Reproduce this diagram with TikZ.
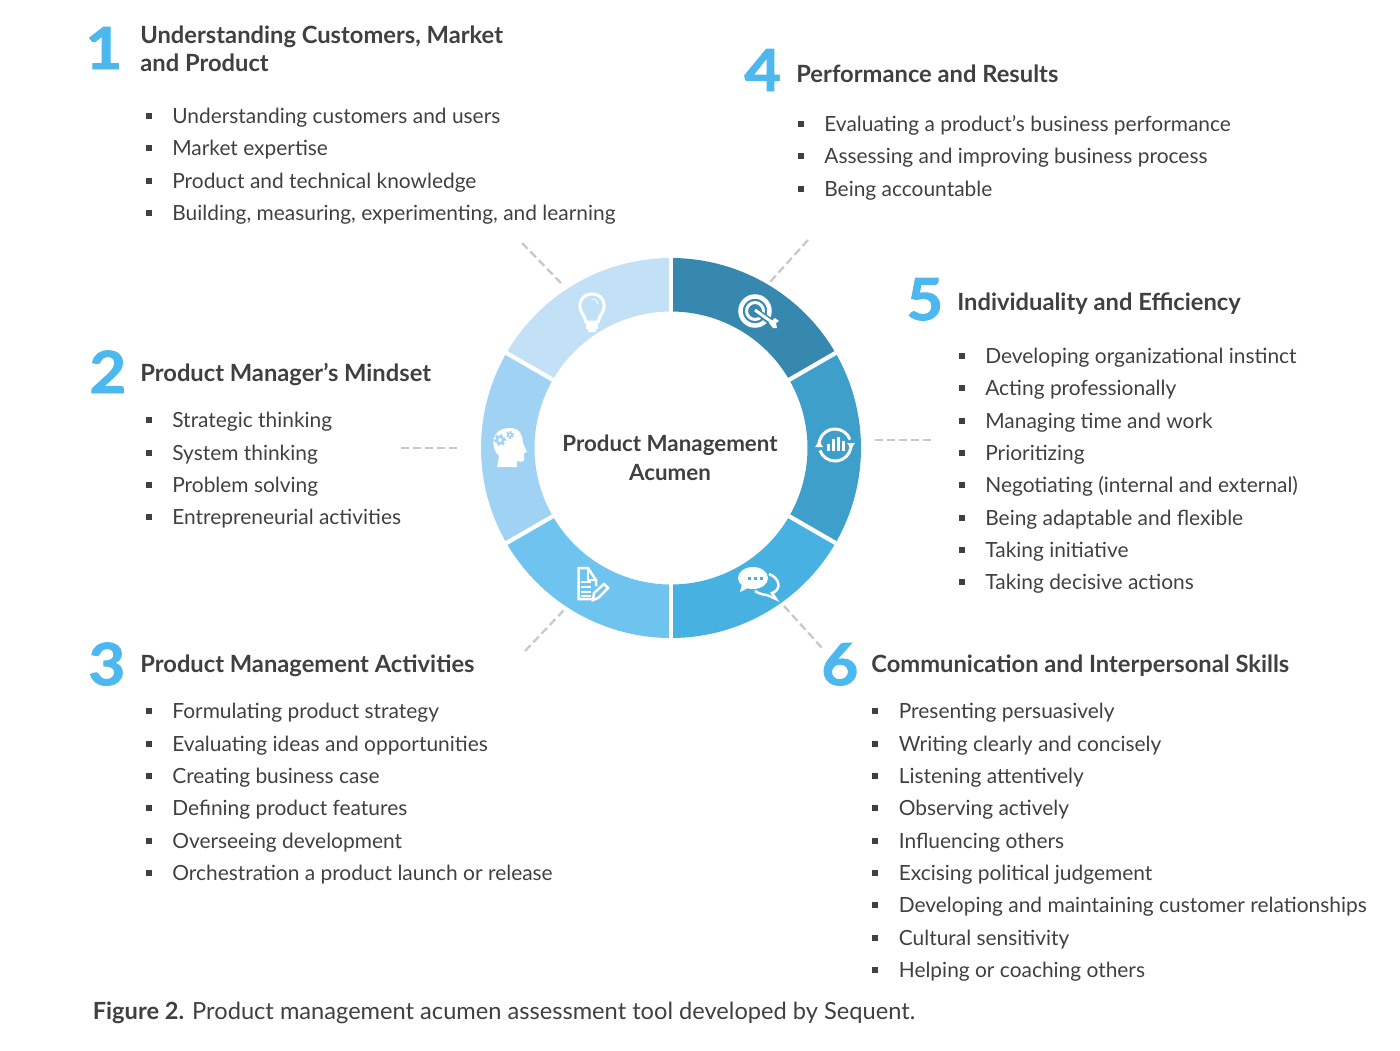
\documentclass[tikz,border=0pt]{standalone}
\usepackage{fontspec}
\setmainfont{Lato}
\newfontfamily\szamfont[BoldFeatures={FakeBold=1.6,FakeStretch=1.1}]{Lato}
\usepackage{tikz}
\definecolor{szov}{HTML}{404040}
\definecolor{szam}{HTML}{4DB8EE}
\definecolor{vonal}{HTML}{C8C8C8}
\definecolor{ringa}{HTML}{C2E1F6}
\definecolor{ringb}{HTML}{A0D2F3}
\definecolor{ringc}{HTML}{6FC3EF}
\definecolor{ringd}{HTML}{47B2E2}
\definecolor{ringe}{HTML}{3F9FCB}
\definecolor{ringf}{HTML}{3688AF}
\tikzset{
  szam/.style={anchor=base west,inner sep=0pt,text=szam,font=\fontsize{33}{33}\selectfont\szamfont\bfseries},
  cim/.style={anchor=base west,inner sep=0pt,text=szov,font=\fontsize{13.5}{16}\selectfont\bfseries},
  tetel/.style={anchor=base west,inner sep=0pt,text=szov,font=\fontsize{11.9}{15}\selectfont},
  pont/.style={rectangle,fill=szov,inner sep=0pt,minimum size=1.1mm},
  vez/.style={vonal,line width=0.45mm,dash pattern=on 1.6mm off 0.8mm},
  ikon/.style={white,line width=0.6mm},
  fog/.style={circle,draw=ringb,inner sep=0pt,line width=0.45mm},
  fogk/.style={circle,draw=ringb,inner sep=0pt},
}
\begin{document}
\begin{tikzpicture}[x=0.2mm,y=0.2mm]
  \useasboundingbox (0,0) rectangle (1400,-1050);
  % ring
  \begin{scope}[shift={(671,-448)}]
    \foreach \a/\col in {90/ringa,150/ringb,210/ringc,270/ringd,330/ringe,30/ringf} {
      \fill[\col] (\a:190) arc (\a:\a+60:190) -- (\a+60:136.5) arc (\a+60:\a:136.5) -- cycle;
    }
    \foreach \a in {30,90,...,330} {
      \draw[white,line width=0.85mm] (\a:130) -- (\a:196);
    }
  \end{scope}
  \node[text=szov,align=center,inner sep=0pt,font=\fontsize{12.7}{16.5}\selectfont\bfseries] (kozep) at (670,-458) {Product Management\\Acumen};
  % numbers and headings
  \node[szam] (n1) at (85,-69) {1};
  \node[szam] (n2) at (89,-393) {2};
  \node[szam] (n3) at (88,-685) {3};
  \node[szam] (n4) at (744,-91) {4};
  \node[szam] (n5) at (906,-320) {5};
  \node[szam] (n6) at (821,-685) {6};
  \node[cim] (c1a) at (140,-43) {Understanding Customers, Market};
  \node[cim] (c1b) at (140,-71) {and Product};
  \node[cim] (c2) at (140,-381) {Product Manager’s Mindset};
  \node[cim] (c3) at (140,-672) {Product Management Activities};
  \node[cim] (c4) at (796,-82) {Performance and Results};
  \node[cim] (c5) at (957,-310.5) {Individuality and Efficiency};
  \node[cim] (c6) at (871,-672) {Communication and Interpersonal Skills};
  % lists
  \foreach \y/\lab [count=\i] in {116/{Understanding customers and users},148/{Market expertise},181/{Product and technical knowledge},213/{Building, measuring, experimenting, and learning}} {
    \node[pont] (pa\i) at (149,-\y) {};
    \node[tetel] (ta\i) at (172,-\y-7.5) {\lab};
  }
  \foreach \y/\lab [count=\i] in {420/{Strategic thinking},453/{System thinking},485/{Problem solving},517/{Entrepreneurial activities}} {
    \node[pont] (pb\i) at (149,-\y) {};
    \node[tetel] (tb\i) at (172,-\y-7.5) {\lab};
  }
  \foreach \y/\lab [count=\i] in {711/{Formulating product strategy},744/{Evaluating ideas and opportunities},776/{Creating business case},808/{Defining product features},841/{Overseeing development},873/{Orchestration a product launch or release}} {
    \node[pont] (pc\i) at (149,-\y) {};
    \node[tetel] (tc\i) at (172,-\y-7.5) {\lab};
  }
  \foreach \y/\lab [count=\i] in {124/{Evaluating a product’s business performance},156/{Assessing and improving business process},189/{Being accountable}} {
    \node[pont] (pd\i) at (801,-\y) {};
    \node[tetel] (td\i) at (824,-\y-7.5) {\lab};
  }
  \foreach \y/\lab [count=\i] in {356/{Developing organizational instinct},388/{Acting professionally},421/{Managing time and work},453/{Prioritizing},485/{Negotiating (internal and external)},518/{Being adaptable and flexible},550/{Taking initiative},582/{Taking decisive actions}} {
    \node[pont] (pe\i) at (962,-\y) {};
    \node[tetel] (te\i) at (985,-\y-7.5) {\lab};
  }
  \foreach \y/\lab [count=\i] in {711/{Presenting persuasively},744/{Writing clearly and concisely},776/{Listening attentively},808/{Observing actively},841/{Influencing others},873/{Excising political judgement},905/{Developing and maintaining customer relationships},938/{Cultural sensitivity},970/{Helping or coaching others}} {
    \node[pont] (pf\i) at (875,-\y) {};
    \node[tetel] (tf\i) at (898.5,-\y-7.5) {\lab};
  }
  \node[tetel,font=\fontsize{13.45}{16}\selectfont] (abra) at (92.5,-1019.5) {\textbf{Figure 2.} Product management acumen assessment tool developed by Sequent.};
  % leader lines
  \coordinate (v1a) at (522,-243); \coordinate (v1b) at (561,-283);
  \coordinate (v2a) at (401,-448); \coordinate (v2b) at (458,-448);
  \coordinate (v3a) at (525,-651); \coordinate (v3b) at (564,-610);
  \coordinate (v4a) at (808,-240); \coordinate (v4b) at (770,-282);
  \coordinate (v5a) at (875,-440); \coordinate (v5b) at (931,-440);
  \coordinate (v6a) at (784,-606); \coordinate (v6b) at (822,-648);
  \foreach \i in {1,...,6} {
    \draw[vez] (v\i a) -- (v\i b);
  }
  % bulb
  \draw[ikon] (584,-316) .. controls (576,-307) and (580,-294) .. (592,-294) .. controls (604,-294) and (608,-307) .. (600,-316) -- (598,-322) -- (586,-322) -- cycle;
  \fill[white] (586,-323) rectangle (598,-329);
  \fill[white] (588,-329) rectangle (596,-332);
  \draw[white,line width=0.2mm] (592,-299) .. controls (596,-299) and (598,-301) .. (598,-304);
  % target
  \draw[ikon,line width=0.9mm] (755,-311) circle (14.5);
  \draw[ikon] (755,-311) circle (8.5);
  \draw[ringf,line width=1.3mm] (756,-311) -- (774,-324);
  \draw[ikon] (755,-310) -- (773,-323);
  \fill[white] (769,-323) -- (775,-318) -- (779,-321) -- (776,-323) -- (777,-328) -- (773,-328) -- cycle;
  % cycle with chart
  \draw[ikon] (819,-445) arc (180:20:16);
  \draw[ikon] (851,-445) arc (0:-160:16);
  \fill[white] (815,-447) -- (823,-447) -- (819,-441) -- cycle;
  \fill[white] (847,-443) -- (855,-443) -- (851,-449) -- cycle;
  \foreach \x/\h in {827/7,832/12,837/14,842/10} {
    \fill[white] (\x,-451) rectangle +(3,\h);
  }
  % speech bubbles
  \fill[white] (753,-578) ellipse (15 and 11);
  \fill[white] (742,-584) -- (740,-592) -- (750,-587) -- cycle;
  \foreach \x in {749,755,761} {
    \fill[ringd] (\x,-578) +(-1.5,-1.5) rectangle +(1.5,1.5);
  }
  \draw[white,line width=0.5mm] (769,-574) .. controls (780,-578) and (782,-590) .. (772,-593) -- (776,-599) -- (767,-595) .. controls (763,-595) and (758,-593) .. (755,-591);
  % document with pencil
  \draw[white,line width=0.5mm] (592,-599) -- (578.5,-599) -- (578.5,-568) -- (588,-568) -- (596,-580) -- (596,-586);
  \draw[white,line width=0.5mm] (588,-568) -- (588,-580) -- (596,-580);
  \foreach \y in {582,587,592,596} {
    \draw[white,line width=0.4mm] (581,-\y) -- (591,-\y);
  }
  \draw[white,line width=0.5mm] (593,-600) -- (594,-593) -- (604,-584) -- (608,-588) -- (598,-598) -- cycle;
  % head
  \fill[white] (497,-467) -- (499,-456) .. controls (490,-448) and (490,-428) .. (510,-428) .. controls (520,-428) and (523,-436) .. (523,-443) -- (527,-452) -- (524,-453) -- (524,-460) .. controls (523,-462) .. (517,-461) -- (517,-467) -- cycle;
  \node[fogk,line width=0.4mm,dash pattern=on 0.5mm off 0.5mm,minimum size=2mm] (fog1k) at (500,-440) {};
  \node[fog,minimum size=1.3mm] (fog1) at (500,-440) {};
  \node[fogk,line width=0.3mm,dash pattern=on 0.35mm off 0.35mm,minimum size=1.3mm] (fog2k) at (510,-435) {};
  \node[fog,line width=0.3mm,minimum size=0.8mm] (fog2) at (510,-435) {};
\end{tikzpicture}
\end{document}
